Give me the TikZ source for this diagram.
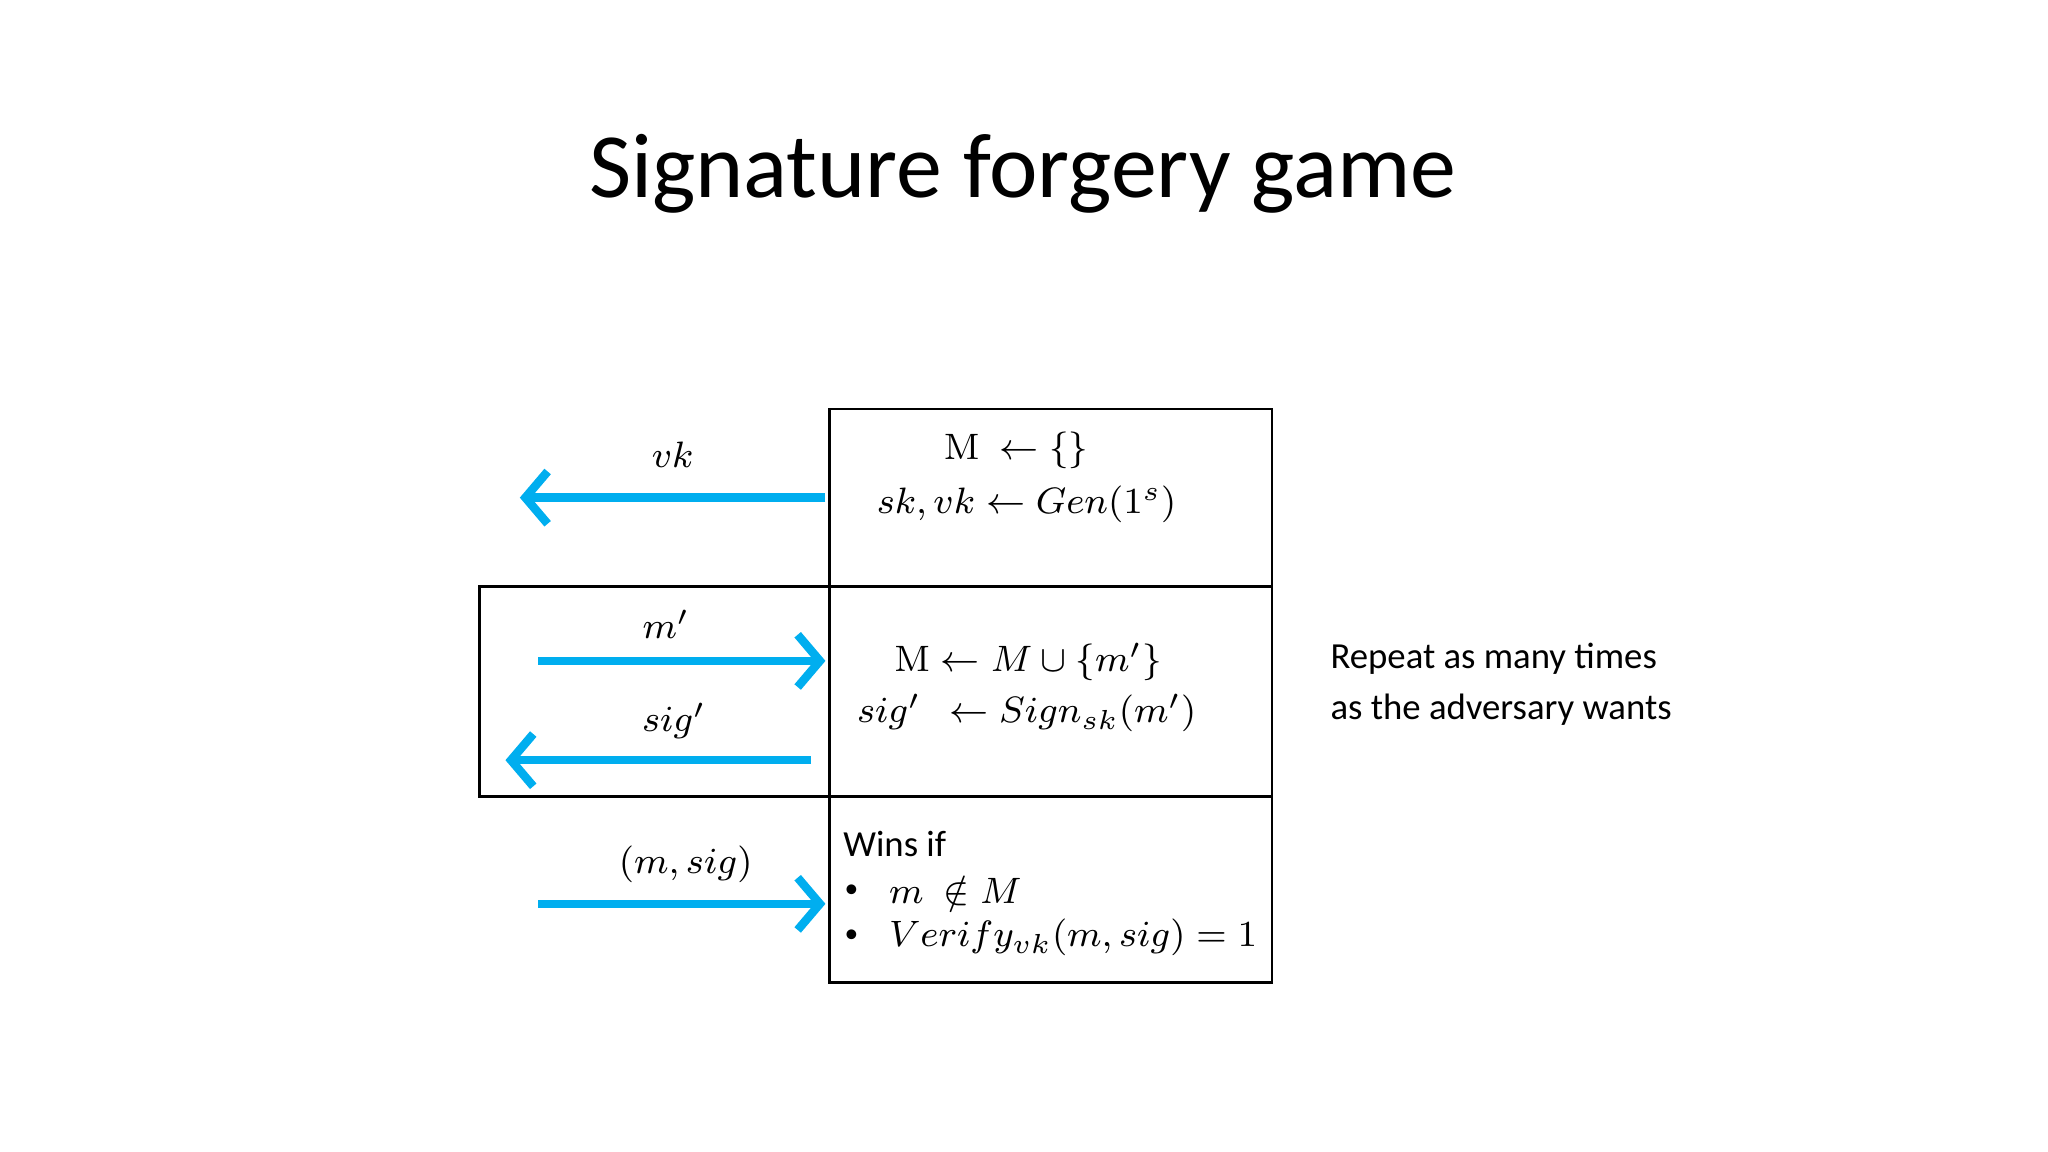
\documentclass[tikz,border=0pt]{standalone}
\usepackage{amssymb}
\usepackage[no-math]{fontspec}
\setmainfont{Carlito}
\usetikzlibrary{arrows.meta}
\definecolor{msg_blue}{HTML}{00AEEF}
\tikzset{
  msg/.style={msg_blue, line width=0.65mm, -{Straight Barb[length=1.7mm, width=4mm, line width=0.65mm]}},
  cell/.style={draw, line width=0.2mm},
  lbl/.style={font=\fontsize{8.5pt}{10pt}\selectfont},
  body/.style={font=\fontsize{8pt}{11pt}\selectfont}
}
\begin{document}
\begin{tikzpicture}[x=0.01cm, y=-0.01cm]
\useasboundingbox (0,0) rectangle (1568,882);

% Title
\node[font=\fontsize{20pt}{24pt}\selectfont] (title) at (783,133) {Signature forgery game};

% Challenger cells
\draw[cell] (635,313) rectangle (974,449);
\draw[cell] (635,449) rectangle (974,610);
\draw[cell] (635,610) rectangle (974,752);
% Adversary query cell
\draw[cell] (367,449) rectangle (635,610);

% Top cell text
\node[lbl] (init) at (778,345) {$\mathrm{M}\ \leftarrow \{\}$};
\node[lbl] (gen) at (786,386) {$sk, vk \leftarrow Gen(1^s)$};

% Middle cell text
\node[lbl] (add) at (787,507) {$\mathrm{M} \leftarrow M \cup \{m'\}$};
\node[lbl] (sign) at (786,546) {$sig'\ \ \leftarrow Sign_{sk}(m')$};

% Bottom cell text
\node[body, anchor=west, inner sep=0pt] (wins) at (645,646) {Wins if};
\node[font=\fontsize{6pt}{7pt}\selectfont, anchor=west, inner sep=0pt] (dot1) at (646,682) {\textbullet};
\node[font=\fontsize{6pt}{7pt}\selectfont, anchor=west, inner sep=0pt] (dot2) at (646,717) {\textbullet};
\node[lbl, anchor=west, inner sep=0pt] (cond1) at (680,682) {$m\ \notin M$};
\node[lbl, anchor=west, inner sep=0pt] (cond2) at (680,718) {$Verify_{vk}(m, sig) = 1$};

% Side note
\node[body, anchor=west, align=left, inner sep=0pt] (note) at (1018,524) {Repeat as many times\\as the adversary wants};

% Message ends
\coordinate (vkA) at (632,381);   \coordinate (vkB) at (398,381);
\coordinate (mA) at (412,506);    \coordinate (mB) at (632,506);
\coordinate (sA) at (621,582);    \coordinate (sB) at (387,582);
\coordinate (fA) at (412,692);    \coordinate (fB) at (632,692);

% Messages
\draw[msg] (vkA) -- (vkB);
\draw[msg] (mA) -- (mB);
\draw[msg] (sA) -- (sB);
\draw[msg] (fA) -- (fB);

% Message labels
\node[lbl] (vk) at (515,348) {$vk$};
\node[lbl] (mq) at (510,478) {$m'$};
\node[lbl] (sq) at (516,552) {$sig'$};
\node[lbl] (forge) at (525,662) {$(m, sig)$};
\end{tikzpicture}
\end{document}
